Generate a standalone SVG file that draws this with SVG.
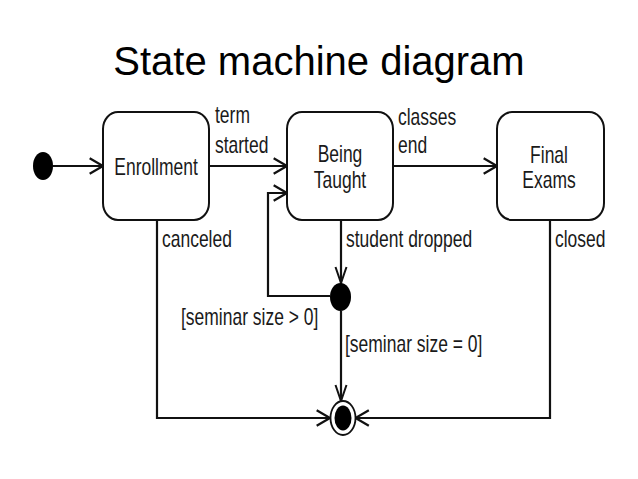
<svg xmlns="http://www.w3.org/2000/svg" width="638" height="479" viewBox="0 0 638 479">
<style>
.box{fill:#fff;stroke:#111;stroke-width:2}
.ln{fill:none;stroke:#111;stroke-width:2.2}
.t{font-family:"Liberation Sans",Arial,sans-serif;font-size:23px;fill:#1a1a1a}
.title{font-family:"Liberation Sans",Arial,sans-serif;font-size:40px;fill:#000}
</style>
<defs>
<marker id="ah" markerUnits="userSpaceOnUse" markerWidth="20" markerHeight="20" viewBox="-14 -9 16 18" refX="0" refY="0" orient="auto">
<path d="M-12,-7 L0,0 L-12,7" fill="none" stroke="#111" stroke-width="2"/>
</marker>
<marker id="av" markerUnits="userSpaceOnUse" markerWidth="20" markerHeight="20" viewBox="-18 -7 20 14" refX="0" refY="0" orient="auto">
<path d="M-16,-5.5 L0,0 L-16,5.5" fill="none" stroke="#111" stroke-width="2"/>
</marker>
</defs>
<rect width="638" height="479" fill="#fff"/>
<text class="title" x="319" y="75" text-anchor="middle">State machine diagram</text>

<g id="connectors">
<path class="ln" d="M53,166 H103" marker-end="url(#ah)"/>
<path class="ln" d="M209,166 H287" marker-end="url(#ah)"/>
<path class="ln" d="M393,166 H497" marker-end="url(#ah)"/>
<path class="ln" d="M341,220 V283" marker-end="url(#av)"/>
<path class="ln" d="M330,296 H268 V193 H287" marker-end="url(#ah)"/>
<path class="ln" d="M341,311 V401" marker-end="url(#av)"/>
<path class="ln" d="M157,220 V418 H330" marker-end="url(#ah)"/>
<path class="ln" d="M550,220 V418 H355.5" marker-end="url(#ah)"/>
<text class="t" transform="translate(215,123) scale(0.76,1)">term</text>
<text class="t" transform="translate(215,153) scale(0.76,1)">started</text>
<text class="t" transform="translate(398,125) scale(0.76,1)">classes</text>
<text class="t" transform="translate(398,153) scale(0.76,1)">end</text>
<text class="t" transform="translate(162,247) scale(0.76,1)">canceled</text>
<text class="t" transform="translate(346,247) scale(0.76,1)">student dropped</text>
<text class="t" transform="translate(555,247) scale(0.76,1)">closed</text>
<text class="t" transform="translate(181,325) scale(0.76,1)">[seminar size &gt; 0]</text>
<text class="t" transform="translate(345,352) scale(0.76,1)">[seminar size = 0]</text>
</g>

<g id="initial">
<ellipse cx="43" cy="166" rx="10" ry="14" fill="#000"/>
</g>

<g id="enrollment">
<rect class="box" x="103" y="112" width="106" height="108" rx="15" ry="17"/>
<text class="t" transform="translate(156,175) scale(0.76,1)" text-anchor="middle">Enrollment</text>
</g>

<g id="being-taught">
<rect class="box" x="287" y="112" width="106" height="108" rx="15" ry="17"/>
<text class="t" transform="translate(340,162) scale(0.76,1)" text-anchor="middle">Being</text>
<text class="t" transform="translate(340,188) scale(0.76,1)" text-anchor="middle">Taught</text>
</g>

<g id="final-exams">
<rect class="box" x="497" y="112" width="107" height="108" rx="15" ry="17"/>
<text class="t" transform="translate(549,163) scale(0.76,1)" text-anchor="middle">Final</text>
<text class="t" transform="translate(549,188) scale(0.76,1)" text-anchor="middle">Exams</text>
</g>

<g id="choice">
<ellipse cx="340.5" cy="297" rx="10.5" ry="14" fill="#000"/>
</g>

<g id="final">
<ellipse cx="343" cy="418" rx="12.5" ry="17" fill="#fff" stroke="#111" stroke-width="1.8"/>
<ellipse cx="343" cy="418" rx="8.5" ry="12.5" fill="#000"/>
</g>
</svg>
